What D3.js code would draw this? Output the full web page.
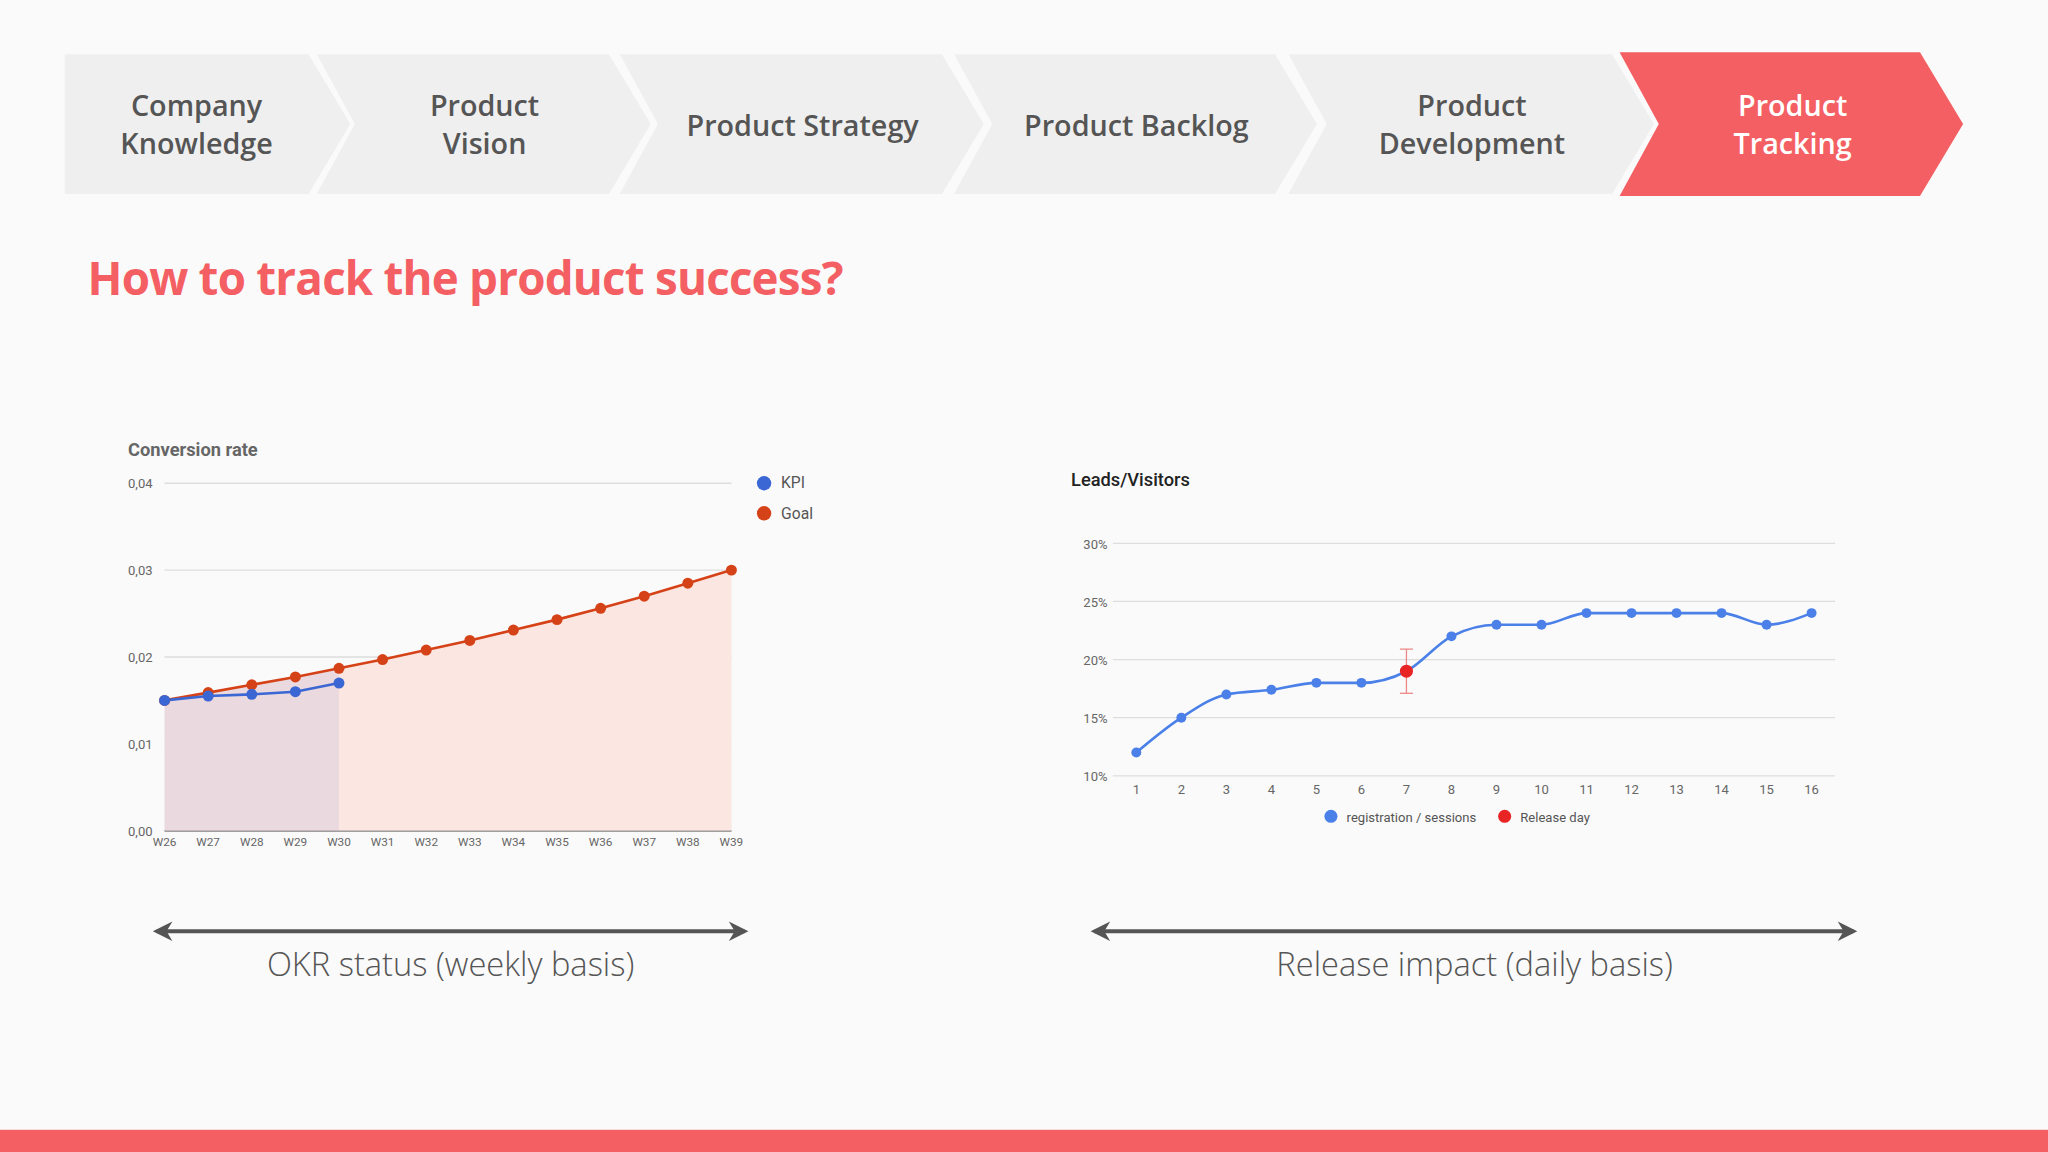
<!DOCTYPE html><html><head><meta charset="utf-8">
<script src="https://cdn.jsdelivr.net/npm/d3@7"></script>
<style>html,body{margin:0;padding:0;background:#fafafa;overflow:hidden}</style></head><body>
<svg id="c" width="2048" height="1152" viewBox="0 0 1568 882"></svg>
<script>
const steps = [["Company","Knowledge"],["Product","Vision"],["Product Strategy"],["Product Backlog"],["Product","Development"],["Product","Tracking"]];
const weeks = ["W26","W27","W28","W29","W30","W31","W32","W33","W34","W35","W36","W37","W38","W39"];
const goal = [0.015,0.0159,0.0168,0.0177,0.0187,0.0197,0.0208,0.0219,0.0231,0.0243,0.0256,0.0270,0.0285,0.030];
const kpi = [0.015,0.0155,0.0157,0.016,0.017];
const convTicks = [0,0.01,0.02,0.03,0.04];
const days = [1,2,3,4,5,6,7,8,9,10,11,12,13,14,15,16];
const leads = [12,15,17,17.4,18,18,19,22,23,23,24,24,24,24,23,24];
const releaseDay = 7, releaseErr = [17.1,20.9];
const leadTicks = [10,15,20,25,30];

const svg = d3.select("#c");
const RED="#f45f63";
const segX=[48,240,472,728,984,1240], segEnd=[270,500,755,1010,1268,1503];
steps.forEach((s,i)=>{
  const x0=segX[i], x1=segEnd[i]-33, tip=segEnd[i], top=40, bot=150, mid=95;
  const notch = i===0?0:30;
  const pts=[[x0,top],[x1,top],[tip,mid],[x1,bot],[x0,bot],[x0+notch,mid]];
  const active=i===steps.length-1;
  svg.append("polygon").attr("points",pts.map(p=>p.join(",")).join(" "))
    .attr("fill",active?RED:"#efefef").attr("stroke",active?"none":"#fafafa").attr("stroke-width",3);
  const cx=(x0+notch*0.5+x1)/2+ (i===0?8:10);
  const t=svg.append("text").attr("x",cx).attr("text-anchor","middle")
    .attr("font-family","Open Sans").attr("font-weight",600).attr("font-size",22)
    .attr("fill",active?"#fff":"#555");
  s.forEach((line,j)=>t.append("tspan").attr("x",cx).attr("y",(s.length===1?104:89)+j*29).text(line));
});
svg.append("text").attr("x",67).attr("y",226).attr("font-family","Open Sans").attr("font-weight",700)
  .attr("font-size",35).attr("letter-spacing",-0.6).attr("fill",RED).text("How to track the product success?");

const x1=d3.scalePoint().domain(weeks).range([126,560]);
const y1=d3.scaleLinear().domain([0,0.04]).range([636,370]);
const g1=svg.append("g").attr("font-family","Roboto");
g1.append("text").attr("x",98).attr("y",349).attr("font-size",14).attr("font-weight",700).attr("fill","#666").text("Conversion rate");
convTicks.forEach(t=>{
  g1.append("line").attr("x1",126).attr("x2",560).attr("y1",y1(t)).attr("y2",y1(t)).attr("stroke",t===0?"#444":"#ddd").attr("stroke-width",t===0?1.2:1);
  g1.append("text").attr("x",98).attr("y",y1(t)+4).attr("font-size",10).attr("fill","#666").text(d3.format(".2f")(t).replace(".",","));
});
weeks.forEach(w=>g1.append("text").attr("x",x1(w)).attr("y",648).attr("text-anchor","middle").attr("font-size",9).attr("fill","#666").text(w));
const area=d3.area().x((d,i)=>x1(weeks[i])).y0(y1(0)).y1(d=>y1(d));
g1.append("path").attr("d",area(goal)).attr("fill","#fbe6e1");
g1.append("path").attr("d",area(goal.slice(0,kpi.length))).attr("fill","#5c6bc0").attr("opacity",0.1);
const line=d3.line().x((d,i)=>x1(weeks[i])).y(d=>y1(d));
g1.append("path").attr("d",line(goal)).attr("fill","none").attr("stroke","#d64218").attr("stroke-width",2);
g1.append("path").attr("d",line(kpi)).attr("fill","none").attr("stroke","#3a67d4").attr("stroke-width",2);
goal.forEach((d,i)=>g1.append("circle").attr("cx",x1(weeks[i])).attr("cy",y1(d)).attr("r",4.2).attr("fill","#d64218"));
kpi.forEach((d,i)=>g1.append("circle").attr("cx",x1(weeks[i])).attr("cy",y1(d)).attr("r",4.2).attr("fill","#3a67d4"));
[["KPI","#3a67d4",370],["Goal","#d64218",393]].forEach(([n,c,y])=>{
  g1.append("circle").attr("cx",585).attr("cy",y).attr("r",5.5).attr("fill",c);
  g1.append("text").attr("x",598).attr("y",y+4).attr("font-size",12).attr("fill","#555").text(n);
});

const x2=d3.scalePoint().domain(days).range([870,1387]);
const y2=d3.scaleLinear().domain([10,30]).range([594,416]);
const g2=svg.append("g").attr("font-family","Roboto");
g2.append("text").attr("x",820).attr("y",372).attr("font-size",14).attr("font-weight",500).attr("fill","#222").text("Leads/Visitors");
leadTicks.forEach(t=>{
  g2.append("line").attr("x1",852).attr("x2",1405).attr("y1",y2(t)).attr("y2",y2(t)).attr("stroke","#ddd");
  g2.append("text").attr("x",848).attr("y",y2(t)+4).attr("text-anchor","end").attr("font-size",10).attr("fill","#666").text(t+"%");
});
days.forEach(d=>g2.append("text").attr("x",x2(d)).attr("y",608).attr("text-anchor","middle").attr("font-size",10).attr("fill","#666").text(d));
g2.append("path").attr("d",d3.line().x((d,i)=>x2(days[i])).y(d=>y2(d)).curve(d3.curveMonotoneX)(leads))
  .attr("fill","none").attr("stroke","#4a80e8").attr("stroke-width",2);
const ex=x2(releaseDay);
g2.append("line").attr("x1",ex).attr("x2",ex).attr("y1",y2(releaseErr[0])).attr("y2",y2(releaseErr[1])).attr("stroke","#e88");
releaseErr.forEach(v=>g2.append("line").attr("x1",ex-5).attr("x2",ex+5).attr("y1",y2(v)).attr("y2",y2(v)).attr("stroke","#e88"));
leads.forEach((d,i)=>g2.append("circle").attr("cx",x2(days[i])).attr("cy",y2(d)).attr("r",days[i]===releaseDay?5:3.8)
  .attr("fill",days[i]===releaseDay?"#e82424":"#4a80e8"));
[["registration / sessions","#4a80e8",1019],["Release day","#e82424",1152]].forEach(([n,c,x])=>{
  g2.append("circle").attr("cx",x).attr("cy",625).attr("r",5).attr("fill",c);
  g2.append("text").attr("x",x+12).attr("y",629).attr("font-size",10).attr("fill","#555").text(n);
});

const defs=svg.append("defs");
defs.append("marker").attr("id","ah").attr("viewBox","0 0 10 10").attr("refX",8).attr("refY",5)
  .attr("markerWidth",6).attr("markerHeight",5).attr("orient","auto-start-reverse")
  .append("path").attr("d","M0,0 L10,5 L0,10 L3,5 Z").attr("fill","#555");
[[120,570,345,"OKR status (weekly basis)"],[838,1419,1129,"Release impact (daily basis)"]].forEach(([a,b,c,t])=>{
  svg.append("line").attr("x1",a).attr("x2",b).attr("y1",713).attr("y2",713).attr("stroke","#555").attr("stroke-width",3)
    .attr("marker-start","url(#ah)").attr("marker-end","url(#ah)");
  svg.append("text").attr("x",c).attr("y",747).attr("text-anchor","middle").attr("font-family","Open Sans")
    .attr("font-weight",300).attr("font-size",25).attr("fill","#555").text(t);
});
svg.append("rect").attr("x",0).attr("y",865).attr("width",1568).attr("height",17).attr("fill",RED);
</script></body></html>
